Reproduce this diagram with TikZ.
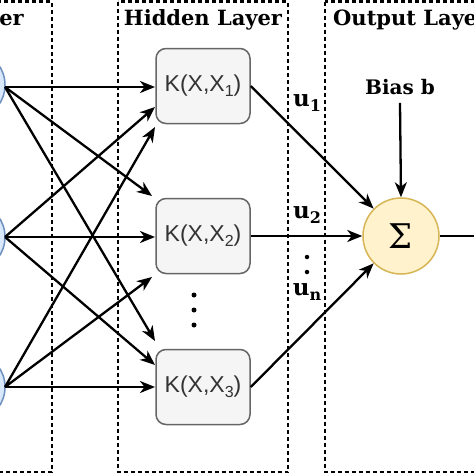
\documentclass[tikz,border=0pt]{standalone}
\usepackage{fontspec}
\setmainfont{DejaVu Serif}
\setsansfont{Liberation Sans}
\usetikzlibrary{arrows.meta,shapes.geometric,calc}
\definecolor{inblue}{HTML}{DAE8FC}
\definecolor{inborder}{HTML}{6C8EBF}
\definecolor{kfill}{HTML}{F5F5F5}
\definecolor{kborder}{HTML}{666666}
\definecolor{ktext}{HTML}{333333}
\definecolor{sfill}{HTML}{FFF2CC}
\definecolor{sborder}{HTML}{D6B656}
\tikzset{
  layerbox/.style={draw=black, line width=2.3pt, dash pattern=on 4pt off 3pt},
  arr/.style={-{Stealth[length=15pt,width=12pt,inset=4.5pt]}, line width=2.3pt},
  plain/.style={line width=2.3pt},
  innode/.style={ellipse, draw=inborder, fill=inblue, line width=1.5pt, minimum width=50pt, minimum height=60pt, inner sep=0pt},
  kbox/.style={rectangle, rounded corners=10pt, draw=kborder, fill=kfill, line width=1.5pt,
    minimum width=94pt, minimum height=75pt, text=ktext, font=\sffamily\fontsize{23}{25}\selectfont},
  sumnode/.style={circle, draw=sborder, fill=sfill, line width=1.5pt, minimum size=76pt, inner sep=0pt},
  title/.style={font=\bfseries\fontsize{21}{23}\selectfont, inner sep=0pt},
  ulab/.style={font=\bfseries\fontsize{23}{25}\selectfont, inner sep=0pt},
  dotn/.style={circle, fill=black, minimum size=5pt, inner sep=0pt},
}
\newcommand{\ksub}[1]{\raisebox{-5pt}{\fontsize{16}{16}\selectfont #1}}
\newcommand{\usub}[1]{\raisebox{-5pt}{\fontsize{16}{16}\selectfont #1}}
\begin{document}
\begin{tikzpicture}[x=1pt,y=-1pt]
\useasboundingbox (0,0) rectangle (474,474);
\clip (0,0) rectangle (474,474);
\fill[white] (0,0) rectangle (474,474);

% layer containers
\draw[layerbox] (-20,1.5) rectangle (52,472);
\draw[layerbox] (118,1.5) rectangle (288,472);
\draw[layerbox] (325,1.5) rectangle (500,472);

% titles
\node[title, anchor=east] (tin) at (24,20) {Input Layer};
\node[title] (thid) at (203,20) {Hidden Layer};
\node[title, anchor=west] (tout) at (333,20) {Output Layer};

% input nodes
\node[innode] (in1) at (-20,85) {};
\node[innode] (in2) at (-20,237) {};
\node[innode] (in3) at (-20,387) {};

% kernel nodes
\node[kbox] (h1) at (203,86) {K(X,X\ksub{1})};
\node[kbox] (h2) at (203,236) {K(X,X\ksub{2})};
\node[kbox] (h3) at (203,387) {K(X,X\ksub{3})};

% vertical dots between h2 and h3
\node[dotn] (d1) at (194,295) {};
\node[dotn] (d2) at (194,310) {};
\node[dotn] (d3) at (194,325) {};

% sum node
\node[sumnode] (sig) at (401,236) {\fontsize{34}{34}\selectfont Σ};
\node[font=\bfseries\fontsize{20}{22}\selectfont, inner sep=0pt] (bias) at (400,87) {Bias b};
\coordinate (outend) at (490,236);

% connectors input -> hidden
\coordinate (s1) at (5,87);
\coordinate (s2) at (5,237);
\coordinate (s3) at (5,387);
\draw[arr] (s1) -- (155,87);
\draw[arr] (s1) -- (152,196);
\draw[arr] (s1) -- (155,341);
\draw[arr] (s2) -- (155,107);
\draw[arr] (s2) -- (155,237);
\draw[arr] (s2) -- (155,365);
\draw[arr] (s3) -- (155,127);
\draw[arr] (s3) -- (152,277);
\draw[arr] (s3) -- (155,387);

% hidden -> sum
\draw[arr] (h1.east) -- (sig.135);
\draw[arr] (h2.east) -- (sig.west);
\draw[arr] (h3.east) -- (sig.225);
\draw[arr] ([yshift=-8pt]bias.south) -- (sig.north);
\draw[plain] (sig.east) -- (outend);

% weight labels
\node[ulab] (u1) at (307,103) {u\usub{1}};
\node[ulab] (u2) at (307,215) {u\usub{2}};
\node[dotn, minimum size=4.5pt] (e1) at (307,257) {};
\node[dotn, minimum size=4.5pt] (e2) at (307,272) {};
\node[ulab] (un) at (307,292) {u\usub{n}};
\end{tikzpicture}
\end{document}
